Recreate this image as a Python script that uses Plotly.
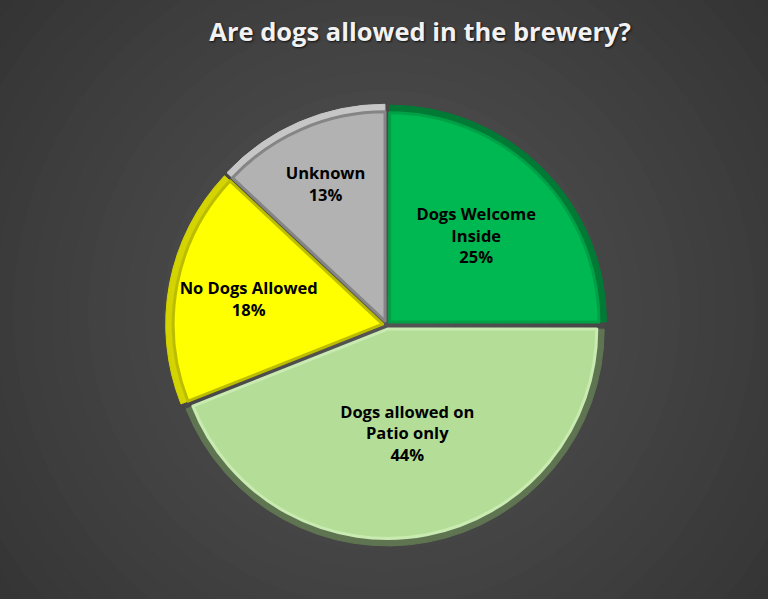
import plotly.graph_objects as go

categories = ["Dogs Welcome Inside", "Dogs allowed on Patio only", "No Dogs Allowed", "Unknown"]
display_labels = ["Dogs Welcome<br>Inside", "Dogs allowed on<br>Patio only", "No Dogs Allowed", "Unknown"]
percent_values = [25, 44, 18, 13]
slice_colors = ["#00B852", "#B4DE97", "#FFFF00", "#B2B2B2"]
arc_colors = ["#007A35", "#5F7552", "#D4D400", "#C6C6C6"]
edge_colors = ["#00A046", "#C9EBB1", "#BDBD00", "#858585"]
slice_pull = [0.02, 0.02, 0.02, 0.02]

W, H = 768, 599

# bevel base (outer rim colour)
fig = go.Figure()
fig.add_trace(go.Pie(
    labels=categories,
    values=percent_values,
    textinfo="none",
    hoverinfo="skip",
    marker=dict(colors=arc_colors, line=dict(color=arc_colors, width=1)),
    sort=False,
    direction="clockwise",
    rotation=0,
    pull=slice_pull,
    showlegend=False,
    domain=dict(x=[0.2155, 0.7915], y=[0.0885, 0.8265]),
))

# main faces
fig.add_trace(go.Pie(
    labels=categories,
    values=percent_values,
    text=display_labels,
    texttemplate="%{text}<br>%{value}%",
    textposition="inside",
    insidetextorientation="horizontal",
    textfont=dict(family="Open Sans", size=16.5, color="black", weight="bold"),
    marker=dict(colors=slice_colors, line=dict(color=edge_colors, width=3)),
    sort=False,
    direction="clockwise",
    rotation=0,
    pull=slice_pull,
    showlegend=False,
    domain=dict(x=[0.2255, 0.7815], y=[0.1010, 0.8140]),
))

# radial gradient background built from concentric ellipses
shapes = []
n = 40
inner = (0x55, 0x55, 0x55)
outer = (0x24, 0x24, 0x24)
cx, cy = 0.5, 0.48
for i in range(n):
    t = i / (n - 1)          # 0 outer -> 1 inner
    r = 0.95 * (1 - t) + 0.02
    col = tuple(int(outer[k] + (inner[k] - outer[k]) * t) for k in range(3))
    shapes.append(dict(
        type="circle", xref="paper", yref="paper", layer="below",
        x0=cx - r, x1=cx + r, y0=cy - r * W / H, y1=cy + r * W / H,
        fillcolor="rgb(%d,%d,%d)" % col, line=dict(width=0),
    ))

fig.update_layout(
    width=W, height=H,
    margin=dict(l=0, r=0, t=0, b=0),
    paper_bgcolor="#242424",
    plot_bgcolor="#242424",
    shapes=shapes,
    title=dict(
        text="Are dogs allowed in the brewery?",
        x=0.547, xanchor="center", y=0.947, yanchor="middle",
        font=dict(family="Open Sans", size=25.5, color="#F2F2F2", weight="bold",
                  shadow="1px 1px 2px #111111"),
    ),
)

fig.write_html(
    "out.html",
    config=dict(displayModeBar=False),
    post_script="document.body.style.margin='0';document.body.style.padding='0';document.body.style.overflow='hidden';",
)
